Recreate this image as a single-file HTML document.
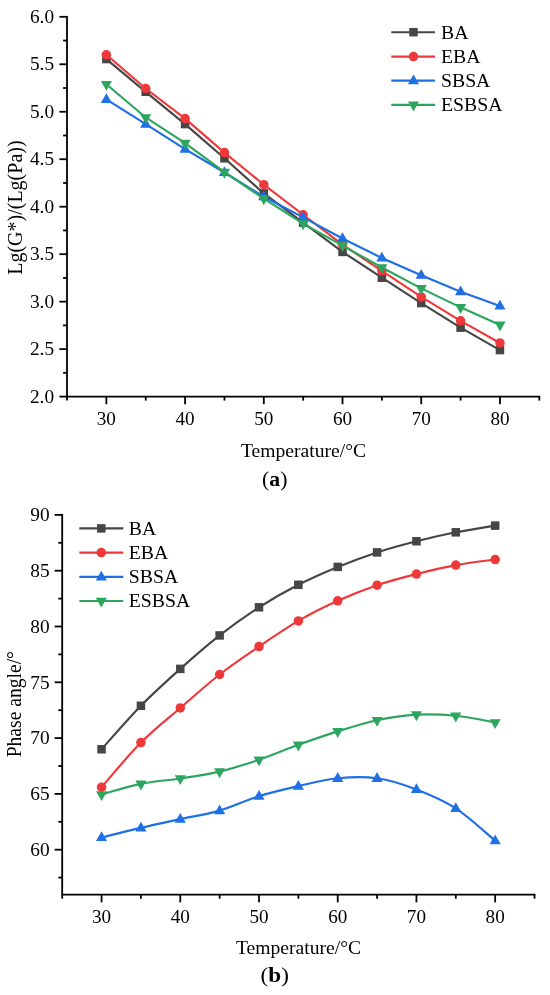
<!DOCTYPE html>
<html lang="en"><head><meta charset="utf-8"><title>Figure</title>
<style>html,body{margin:0;padding:0;background:#fff}svg{display:block}</style></head>
<body>
<svg width="550" height="995" viewBox="0 0 550 995" font-family="'Liberation Serif', serif">
<rect width="550" height="995" fill="#ffffff"/>
<g stroke="#000000" stroke-width="1.8" fill="none" stroke-linecap="butt">
<path d="M67.00,15.90 V396.60 H540.22"/>
<path d="M106.36,396.60 v7.6"/>
<path d="M185.08,396.60 v7.6"/>
<path d="M263.80,396.60 v7.6"/>
<path d="M342.52,396.60 v7.6"/>
<path d="M421.24,396.60 v7.6"/>
<path d="M499.96,396.60 v7.6"/>
<path d="M67.00,396.60 v4"/>
<path d="M145.72,396.60 v4"/>
<path d="M224.44,396.60 v4"/>
<path d="M303.16,396.60 v4"/>
<path d="M381.88,396.60 v4"/>
<path d="M460.60,396.60 v4"/>
<path d="M539.32,396.60 v4"/>
<path d="M67.00,396.60 h-7.6"/>
<path d="M67.00,349.12 h-7.6"/>
<path d="M67.00,301.65 h-7.6"/>
<path d="M67.00,254.18 h-7.6"/>
<path d="M67.00,206.70 h-7.6"/>
<path d="M67.00,159.23 h-7.6"/>
<path d="M67.00,111.75 h-7.6"/>
<path d="M67.00,64.28 h-7.6"/>
<path d="M67.00,16.80 h-7.6"/>
<path d="M67.00,372.86 h-3.9"/>
<path d="M67.00,325.39 h-3.9"/>
<path d="M67.00,277.91 h-3.9"/>
<path d="M67.00,230.44 h-3.9"/>
<path d="M67.00,182.96 h-3.9"/>
<path d="M67.00,135.49 h-3.9"/>
<path d="M67.00,88.01 h-3.9"/>
<path d="M67.00,40.54 h-3.9"/>
</g>
<g font-size="18.6" fill="#000">
<text transform="translate(106.36,424.6) scale(1.03,1)" text-anchor="middle">30</text>
<text transform="translate(185.08,424.6) scale(1.03,1)" text-anchor="middle">40</text>
<text transform="translate(263.80,424.6) scale(1.03,1)" text-anchor="middle">50</text>
<text transform="translate(342.52,424.6) scale(1.03,1)" text-anchor="middle">60</text>
<text transform="translate(421.24,424.6) scale(1.03,1)" text-anchor="middle">70</text>
<text transform="translate(499.96,424.6) scale(1.03,1)" text-anchor="middle">80</text>
<text transform="translate(54.1,402.80) scale(1.04,1)" text-anchor="end">2.0</text>
<text transform="translate(54.1,355.32) scale(1.04,1)" text-anchor="end">2.5</text>
<text transform="translate(54.1,307.85) scale(1.04,1)" text-anchor="end">3.0</text>
<text transform="translate(54.1,260.38) scale(1.04,1)" text-anchor="end">3.5</text>
<text transform="translate(54.1,212.90) scale(1.04,1)" text-anchor="end">4.0</text>
<text transform="translate(54.1,165.43) scale(1.04,1)" text-anchor="end">4.5</text>
<text transform="translate(54.1,117.95) scale(1.04,1)" text-anchor="end">5.0</text>
<text transform="translate(54.1,70.48) scale(1.04,1)" text-anchor="end">5.5</text>
<text transform="translate(54.1,23.00) scale(1.04,1)" text-anchor="end">6.0</text>
</g>
<g stroke="#000000" stroke-width="1.8" fill="none" stroke-linecap="butt">
<path d="M62.20,514.00 V894.70 H535.42"/>
<path d="M101.56,894.70 v7.6"/>
<path d="M180.28,894.70 v7.6"/>
<path d="M259.00,894.70 v7.6"/>
<path d="M337.72,894.70 v7.6"/>
<path d="M416.44,894.70 v7.6"/>
<path d="M495.16,894.70 v7.6"/>
<path d="M62.20,894.70 v4"/>
<path d="M140.92,894.70 v4"/>
<path d="M219.64,894.70 v4"/>
<path d="M298.36,894.70 v4"/>
<path d="M377.08,894.70 v4"/>
<path d="M455.80,894.70 v4"/>
<path d="M534.52,894.70 v4"/>
<path d="M62.20,849.70 h-7.6"/>
<path d="M62.20,793.90 h-7.6"/>
<path d="M62.20,738.10 h-7.6"/>
<path d="M62.20,682.30 h-7.6"/>
<path d="M62.20,626.50 h-7.6"/>
<path d="M62.20,570.70 h-7.6"/>
<path d="M62.20,514.90 h-7.6"/>
<path d="M62.20,877.60 h-3.9"/>
<path d="M62.20,821.80 h-3.9"/>
<path d="M62.20,766.00 h-3.9"/>
<path d="M62.20,710.20 h-3.9"/>
<path d="M62.20,654.40 h-3.9"/>
<path d="M62.20,598.60 h-3.9"/>
<path d="M62.20,542.80 h-3.9"/>
</g>
<g font-size="18.6" fill="#000">
<text transform="translate(101.56,922.6) scale(1.03,1)" text-anchor="middle">30</text>
<text transform="translate(180.28,922.6) scale(1.03,1)" text-anchor="middle">40</text>
<text transform="translate(259.00,922.6) scale(1.03,1)" text-anchor="middle">50</text>
<text transform="translate(337.72,922.6) scale(1.03,1)" text-anchor="middle">60</text>
<text transform="translate(416.44,922.6) scale(1.03,1)" text-anchor="middle">70</text>
<text transform="translate(495.16,922.6) scale(1.03,1)" text-anchor="middle">80</text>
<text transform="translate(49.7,855.90) scale(1.04,1)" text-anchor="end">60</text>
<text transform="translate(49.7,800.10) scale(1.04,1)" text-anchor="end">65</text>
<text transform="translate(49.7,744.30) scale(1.04,1)" text-anchor="end">70</text>
<text transform="translate(49.7,688.50) scale(1.04,1)" text-anchor="end">75</text>
<text transform="translate(49.7,632.70) scale(1.04,1)" text-anchor="end">80</text>
<text transform="translate(49.7,576.90) scale(1.04,1)" text-anchor="end">85</text>
<text transform="translate(49.7,521.10) scale(1.04,1)" text-anchor="end">90</text>
</g>
<path d="M106.36,59.05 L145.72,91.81 L185.08,124.09 L224.44,158.28 L263.80,193.41 L303.16,222.65 L342.52,251.90 L381.88,277.72 L421.24,303.07 L460.60,327.67 L499.96,350.07" stroke="#464646" stroke-width="2.15" fill="none" stroke-linejoin="round"/>
<rect x="102.11" y="54.80" width="8.5" height="8.5" fill="#464646"/>
<rect x="141.47" y="87.56" width="8.5" height="8.5" fill="#464646"/>
<rect x="180.83" y="119.84" width="8.5" height="8.5" fill="#464646"/>
<rect x="220.19" y="154.03" width="8.5" height="8.5" fill="#464646"/>
<rect x="259.55" y="189.16" width="8.5" height="8.5" fill="#464646"/>
<rect x="298.91" y="218.40" width="8.5" height="8.5" fill="#464646"/>
<rect x="338.27" y="247.65" width="8.5" height="8.5" fill="#464646"/>
<rect x="377.63" y="273.47" width="8.5" height="8.5" fill="#464646"/>
<rect x="416.99" y="298.82" width="8.5" height="8.5" fill="#464646"/>
<rect x="456.35" y="323.42" width="8.5" height="8.5" fill="#464646"/>
<rect x="495.71" y="345.82" width="8.5" height="8.5" fill="#464646"/>
<path d="M106.36,54.78 L145.72,88.49 L185.08,118.59 L224.44,152.58 L263.80,184.67 L303.16,214.77 L342.52,244.68 L381.88,270.79 L421.24,296.90 L460.60,320.83 L499.96,342.95" stroke="#ee3839" stroke-width="2.15" fill="none" stroke-linejoin="round"/>
<circle cx="106.36" cy="54.78" r="4.75" fill="#ee3839"/>
<circle cx="145.72" cy="88.49" r="4.75" fill="#ee3839"/>
<circle cx="185.08" cy="118.59" r="4.75" fill="#ee3839"/>
<circle cx="224.44" cy="152.58" r="4.75" fill="#ee3839"/>
<circle cx="263.80" cy="184.67" r="4.75" fill="#ee3839"/>
<circle cx="303.16" cy="214.77" r="4.75" fill="#ee3839"/>
<circle cx="342.52" cy="244.68" r="4.75" fill="#ee3839"/>
<circle cx="381.88" cy="270.79" r="4.75" fill="#ee3839"/>
<circle cx="421.24" cy="296.90" r="4.75" fill="#ee3839"/>
<circle cx="460.60" cy="320.83" r="4.75" fill="#ee3839"/>
<circle cx="499.96" cy="342.95" r="4.75" fill="#ee3839"/>
<path d="M106.36,99.41 L145.72,124.09 L185.08,149.07 L224.44,172.52 L263.80,196.73 L303.16,217.33 L342.52,238.51 L381.88,257.97 L421.24,275.25 L460.60,291.68 L499.96,305.92" stroke="#1f6fe5" stroke-width="2.15" fill="none" stroke-linejoin="round"/>
<polygon points="106.36,93.21 100.81,103.01 111.91,103.01" fill="#1f6fe5"/>
<polygon points="145.72,117.89 140.17,127.69 151.27,127.69" fill="#1f6fe5"/>
<polygon points="185.08,142.87 179.53,152.67 190.63,152.67" fill="#1f6fe5"/>
<polygon points="224.44,166.32 218.89,176.12 229.99,176.12" fill="#1f6fe5"/>
<polygon points="263.80,190.53 258.25,200.33 269.35,200.33" fill="#1f6fe5"/>
<polygon points="303.16,211.13 297.61,220.93 308.71,220.93" fill="#1f6fe5"/>
<polygon points="342.52,232.31 336.97,242.11 348.07,242.11" fill="#1f6fe5"/>
<polygon points="381.88,251.77 376.33,261.57 387.43,261.57" fill="#1f6fe5"/>
<polygon points="421.24,269.05 415.69,278.85 426.79,278.85" fill="#1f6fe5"/>
<polygon points="460.60,285.48 455.05,295.28 466.15,295.28" fill="#1f6fe5"/>
<polygon points="499.96,299.72 494.41,309.52 505.51,309.52" fill="#1f6fe5"/>
<path d="M106.36,84.21 L145.72,117.45 L185.08,143.08 L224.44,172.04 L263.80,198.63 L303.16,223.60 L342.52,245.63 L381.88,267.47 L421.24,288.36 L460.60,307.35 L499.96,324.91" stroke="#2ca55e" stroke-width="2.15" fill="none" stroke-linejoin="round"/>
<polygon points="106.36,90.81 100.81,80.91 111.91,80.91" fill="#2ca55e"/>
<polygon points="145.72,124.05 140.17,114.15 151.27,114.15" fill="#2ca55e"/>
<polygon points="185.08,149.68 179.53,139.78 190.63,139.78" fill="#2ca55e"/>
<polygon points="224.44,178.64 218.89,168.74 229.99,168.74" fill="#2ca55e"/>
<polygon points="263.80,205.23 258.25,195.33 269.35,195.33" fill="#2ca55e"/>
<polygon points="303.16,230.20 297.61,220.30 308.71,220.30" fill="#2ca55e"/>
<polygon points="342.52,252.23 336.97,242.33 348.07,242.33" fill="#2ca55e"/>
<polygon points="381.88,274.07 376.33,264.17 387.43,264.17" fill="#2ca55e"/>
<polygon points="421.24,294.96 415.69,285.06 426.79,285.06" fill="#2ca55e"/>
<polygon points="460.60,313.95 455.05,304.05 466.15,304.05" fill="#2ca55e"/>
<polygon points="499.96,331.51 494.41,321.61 505.51,321.61" fill="#2ca55e"/>
<path d="M101.56,749.26 C108.12,742.01 127.80,719.13 140.92,705.74 C154.04,692.34 167.16,680.63 180.28,668.91 C193.40,657.19 206.52,645.70 219.64,635.43 C232.76,625.16 245.88,615.75 259.00,607.30 C272.12,598.86 285.24,591.49 298.36,584.76 C311.48,578.03 324.60,572.30 337.72,566.91 C350.84,561.51 363.96,556.68 377.08,552.40 C390.20,548.12 403.32,544.59 416.44,541.24 C429.56,537.89 442.68,534.91 455.80,532.31 C468.92,529.71 488.60,526.73 495.16,525.61" stroke="#464646" stroke-width="2.15" fill="none"/>
<rect x="97.31" y="745.01" width="8.5" height="8.5" fill="#464646"/>
<rect x="136.67" y="701.49" width="8.5" height="8.5" fill="#464646"/>
<rect x="176.03" y="664.66" width="8.5" height="8.5" fill="#464646"/>
<rect x="215.39" y="631.18" width="8.5" height="8.5" fill="#464646"/>
<rect x="254.75" y="603.05" width="8.5" height="8.5" fill="#464646"/>
<rect x="294.11" y="580.51" width="8.5" height="8.5" fill="#464646"/>
<rect x="333.47" y="562.66" width="8.5" height="8.5" fill="#464646"/>
<rect x="372.83" y="548.15" width="8.5" height="8.5" fill="#464646"/>
<rect x="412.19" y="536.99" width="8.5" height="8.5" fill="#464646"/>
<rect x="451.55" y="528.06" width="8.5" height="8.5" fill="#464646"/>
<rect x="490.91" y="521.36" width="8.5" height="8.5" fill="#464646"/>
<path d="M101.56,787.20 C108.12,779.76 127.80,755.77 140.92,742.56 C154.04,729.36 167.16,719.31 180.28,707.97 C193.40,696.62 206.52,684.72 219.64,674.49 C232.76,664.26 245.88,655.52 259.00,646.59 C272.12,637.66 285.24,628.55 298.36,620.92 C311.48,613.29 324.60,606.78 337.72,600.83 C350.84,594.88 363.96,589.67 377.08,585.21 C390.20,580.74 403.32,577.40 416.44,574.05 C429.56,570.70 442.68,567.54 455.80,565.12 C468.92,562.70 488.60,560.47 495.16,559.54" stroke="#ee3839" stroke-width="2.15" fill="none"/>
<circle cx="101.56" cy="787.20" r="4.75" fill="#ee3839"/>
<circle cx="140.92" cy="742.56" r="4.75" fill="#ee3839"/>
<circle cx="180.28" cy="707.97" r="4.75" fill="#ee3839"/>
<circle cx="219.64" cy="674.49" r="4.75" fill="#ee3839"/>
<circle cx="259.00" cy="646.59" r="4.75" fill="#ee3839"/>
<circle cx="298.36" cy="620.92" r="4.75" fill="#ee3839"/>
<circle cx="337.72" cy="600.83" r="4.75" fill="#ee3839"/>
<circle cx="377.08" cy="585.21" r="4.75" fill="#ee3839"/>
<circle cx="416.44" cy="574.05" r="4.75" fill="#ee3839"/>
<circle cx="455.80" cy="565.12" r="4.75" fill="#ee3839"/>
<circle cx="495.16" cy="559.54" r="4.75" fill="#ee3839"/>
<path d="M101.56,837.42 C108.12,835.82 127.80,830.88 140.92,827.83 C154.04,824.78 167.16,821.99 180.28,819.12 C193.40,816.26 206.52,814.47 219.64,810.64 C232.76,806.81 245.88,800.22 259.00,796.13 C272.12,792.04 285.24,789.06 298.36,786.09 C311.48,783.11 324.60,779.58 337.72,778.28 C350.84,776.97 363.96,776.42 377.08,778.28 C390.20,780.14 403.32,784.41 416.44,789.44 C429.56,794.46 442.68,799.85 455.80,808.41 C468.92,816.96 488.60,835.38 495.16,840.77" stroke="#1f6fe5" stroke-width="2.15" fill="none"/>
<polygon points="101.56,831.22 96.01,841.02 107.11,841.02" fill="#1f6fe5"/>
<polygon points="140.92,821.63 135.37,831.43 146.47,831.43" fill="#1f6fe5"/>
<polygon points="180.28,812.92 174.73,822.72 185.83,822.72" fill="#1f6fe5"/>
<polygon points="219.64,804.44 214.09,814.24 225.19,814.24" fill="#1f6fe5"/>
<polygon points="259.00,789.93 253.45,799.73 264.55,799.73" fill="#1f6fe5"/>
<polygon points="298.36,779.89 292.81,789.69 303.91,789.69" fill="#1f6fe5"/>
<polygon points="337.72,772.08 332.17,781.88 343.27,781.88" fill="#1f6fe5"/>
<polygon points="377.08,772.08 371.53,781.88 382.63,781.88" fill="#1f6fe5"/>
<polygon points="416.44,783.24 410.89,793.04 421.99,793.04" fill="#1f6fe5"/>
<polygon points="455.80,802.21 450.25,812.01 461.35,812.01" fill="#1f6fe5"/>
<polygon points="495.16,834.57 489.61,844.37 500.71,844.37" fill="#1f6fe5"/>
<path d="M101.56,794.46 C108.12,792.69 127.80,786.52 140.92,783.86 C154.04,781.20 167.16,780.55 180.28,778.50 C193.40,776.45 206.52,774.70 219.64,771.58 C232.76,768.46 245.88,764.21 259.00,759.75 C272.12,755.29 285.24,749.52 298.36,744.80 C311.48,740.07 324.60,735.50 337.72,731.40 C350.84,727.31 363.96,723.03 377.08,720.24 C390.20,717.45 403.32,715.41 416.44,714.66 C429.56,713.92 442.68,714.48 455.80,715.78 C468.92,717.08 488.60,721.36 495.16,722.48" stroke="#2ca55e" stroke-width="2.15" fill="none"/>
<polygon points="101.56,801.06 96.01,791.16 107.11,791.16" fill="#2ca55e"/>
<polygon points="140.92,790.46 135.37,780.56 146.47,780.56" fill="#2ca55e"/>
<polygon points="180.28,785.10 174.73,775.20 185.83,775.20" fill="#2ca55e"/>
<polygon points="219.64,778.18 214.09,768.28 225.19,768.28" fill="#2ca55e"/>
<polygon points="259.00,766.35 253.45,756.45 264.55,756.45" fill="#2ca55e"/>
<polygon points="298.36,751.40 292.81,741.50 303.91,741.50" fill="#2ca55e"/>
<polygon points="337.72,738.00 332.17,728.10 343.27,728.10" fill="#2ca55e"/>
<polygon points="377.08,726.84 371.53,716.94 382.63,716.94" fill="#2ca55e"/>
<polygon points="416.44,721.26 410.89,711.36 421.99,711.36" fill="#2ca55e"/>
<polygon points="455.80,722.38 450.25,712.48 461.35,712.48" fill="#2ca55e"/>
<polygon points="495.16,729.08 489.61,719.18 500.71,719.18" fill="#2ca55e"/>
<path d="M391.3,32.2 H435.0" stroke="#464646" stroke-width="2.15"/>
<rect x="409.25" y="27.95" width="8.5" height="8.5" fill="#464646"/>
<text transform="translate(441.0,38.50) scale(1.05,1)" font-size="18.8" fill="#000">BA</text>
<path d="M391.3,56.6 H435.0" stroke="#ee3839" stroke-width="2.15"/>
<circle cx="413.50" cy="56.60" r="4.75" fill="#ee3839"/>
<text transform="translate(441.0,62.90) scale(1.05,1)" font-size="18.8" fill="#000">EBA</text>
<path d="M391.3,80.6 H435.0" stroke="#1f6fe5" stroke-width="2.15"/>
<polygon points="413.50,74.40 407.95,84.20 419.05,84.20" fill="#1f6fe5"/>
<text transform="translate(441.0,86.90) scale(1.05,1)" font-size="18.8" fill="#000">SBSA</text>
<path d="M391.3,104.8 H435.0" stroke="#2ca55e" stroke-width="2.15"/>
<polygon points="413.50,111.40 407.95,101.50 419.05,101.50" fill="#2ca55e"/>
<text transform="translate(441.0,111.10) scale(1.05,1)" font-size="18.8" fill="#000">ESBSA</text>
<path d="M79.3,528.4 H123.3" stroke="#464646" stroke-width="2.15"/>
<rect x="97.05" y="524.15" width="8.5" height="8.5" fill="#464646"/>
<text transform="translate(128.8,534.70) scale(1.05,1)" font-size="18.8" fill="#000">BA</text>
<path d="M79.3,552.6 H123.3" stroke="#ee3839" stroke-width="2.15"/>
<circle cx="101.30" cy="552.60" r="4.75" fill="#ee3839"/>
<text transform="translate(128.8,558.90) scale(1.05,1)" font-size="18.8" fill="#000">EBA</text>
<path d="M79.3,576.9 H123.3" stroke="#1f6fe5" stroke-width="2.15"/>
<polygon points="101.30,570.70 95.75,580.50 106.85,580.50" fill="#1f6fe5"/>
<text transform="translate(128.8,583.20) scale(1.05,1)" font-size="18.8" fill="#000">SBSA</text>
<path d="M79.3,601.0 H123.3" stroke="#2ca55e" stroke-width="2.15"/>
<polygon points="101.30,607.60 95.75,597.70 106.85,597.70" fill="#2ca55e"/>
<text transform="translate(128.8,607.30) scale(1.05,1)" font-size="18.8" fill="#000">ESBSA</text>
<text transform="translate(303.5,457) scale(1.078,1)" font-size="18.2" text-anchor="middle" fill="#000">Temperature/°C</text>
<text transform="translate(298.5,954.2) scale(1.078,1)" font-size="18.2" text-anchor="middle" fill="#000">Temperature/°C</text>
<text transform="translate(21.7,207.6) rotate(-90)" font-size="20" text-anchor="middle" fill="#000">Lg(G*)/(Lg(Pa))</text>
<text transform="translate(21.0,704.2) rotate(-90) scale(0.98,1)" font-size="20" text-anchor="middle" fill="#000">Phase angle/°</text>
<text transform="translate(274.7,486.0) scale(1.09,1)" font-size="20" text-anchor="middle" fill="#000">(<tspan font-weight="bold">a</tspan>)</text>
<text transform="translate(274.8,982.3) scale(1.16,1)" font-size="20" text-anchor="middle" fill="#000">(<tspan font-weight="bold">b</tspan>)</text>
</svg>
</body></html>
